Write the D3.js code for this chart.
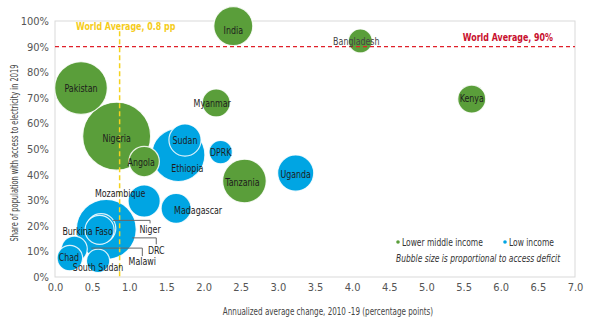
<!DOCTYPE html>
<html><head><meta charset="utf-8">
<script src="https://cdn.jsdelivr.net/npm/d3@7"></script>
<style>
body{margin:0;background:#fff;}
svg{display:block;}
text{font-family:"DejaVu Sans Condensed","Liberation Sans Narrow",sans-serif;}
</style></head>
<body><svg id="c" width="602" height="323"></svg>
<script>
// ---- data ----
const countries = ["Nigeria","DRC","Ethiopia","Pakistan","Tanzania","India","Uganda","Sudan","Mozambique","Madagascar","Angola","Niger","Burkina Faso","Myanmar","Kenya","Malawi","Chad","Bangladesh","DPRK","South Sudan"];
const group     = ["LMI","LI","LI","LMI","LMI","LMI","LI","LI","LI","LI","LMI","LI","LI","LMI","LMI","LI","LI","LMI","LI","LI"];
const change    = [0.83,0.69,1.66,0.35,2.55,2.40,3.24,1.75,1.20,1.63,1.20,0.62,0.60,2.17,5.61,0.26,0.20,4.11,2.23,0.58];
const access    = [55.0,18.6,47.7,73.8,37.5,98.0,40.6,53.5,29.7,26.8,45.1,19.0,18.4,68.0,69.5,10.9,7.4,92.2,48.8,6.3];
const deficit   = [85,66,52,51,35,28,24,19,19,16.5,17,16,15.5,14.4,14.4,12.4,12,10.6,10,10];
const xTicks = [0,0.5,1,1.5,2,2.5,3,3.5,4,4.5,5,5.5,6,6.5,7];
const yTicks = [0,10,20,30,40,50,60,70,80,90,100];
const worldAvgAccess = 90;
const worldAvgChange = 0.87;
const groupNames = {LMI:"Lower middle income", LI:"Low income"};

// ---- label layout (pixel offsets from bubble centre) ----
const labelLayout = {
  "India":{dx:0,dy:5},"Bangladesh":{dx:-4,dy:1},"Kenya":{dx:0,dy:0},"Pakistan":{dx:0,dy:1},
  "Myanmar":{dx:-4,dy:1},"Nigeria":{dx:0,dy:2},"Angola":{dx:-3,dy:1},"Ethiopia":{dx:9,dy:14},
  "Sudan":{dx:0,dy:1},"DPRK":{dx:0,dy:1},"Tanzania":{dx:-2,dy:2},"Uganda":{dx:0,dy:2},
  "Madagascar":{dx:22,dy:2},"Mozambique":{dx:-24,dy:-7},"Burkina Faso":{dx:-12,dy:2},
  "Niger":{dx:49,dy:1,lead:[12,-8]},"DRC":{dx:50,dy:21,lead:[26,8.5]},
  "Malawi":{dx:68,dy:13,lead:[17,-1]},"Chad":{dx:-1,dy:0},"South Sudan":{dx:0,dy:7}
};

const colors = {LMI:"#5a9e3a", LI:"#00a5e3"};
const SX = 0.8; // horizontal condensing to mimic the narrow original face
const svg = d3.select("#c");
const x = d3.scaleLinear().domain([0,7]).range([55,575]);
const y = d3.scaleLinear().domain([0,100]).range([277,21]);
const r = d3.scaleSqrt().domain([0,85]).range([0,34]);

function txt(parent, px, py, str, o={}){
  const t = parent.append("text").attr("x",0).attr("y",0)
    .attr("transform",`translate(${px},${py})${o.rot?` rotate(${o.rot})`:""} scale(${o.sx||SX},1)`)
    .attr("text-anchor",o.anchor||"start").attr("font-size",o.size||11).attr("fill",o.fill||"#222").text(str);
  if(o.weight) t.attr("font-weight",o.weight);
  if(o.style) t.attr("font-style",o.style);
  if(o.mid) t.attr("dominant-baseline","middle");
  return t;
}

// frame
svg.append("rect").attr("x",x(0)).attr("y",y(100)).attr("width",x(7)-x(0)).attr("height",y(0)-y(100))
  .attr("fill","none").attr("stroke","#d9d9d9").attr("stroke-width",1);

// axes
const xa = svg.append("g").attr("transform",`translate(0,${y(0)+1})`)
  .call(d3.axisBottom(x).tickValues(xTicks).tickSize(0).tickPadding(5).tickFormat(d3.format(".1f")));
const ya = svg.append("g").attr("transform",`translate(${x(0)-1},0)`)
  .call(d3.axisLeft(y).tickValues(yTicks).tickSize(0).tickPadding(5).tickFormat(d=>d+"%"));
[xa,ya].forEach(a=>{a.select(".domain").remove();
  a.selectAll("text").attr("font-size",11).attr("fill","#555").style("font-family",null);});

// axis titles
txt(svg,(x(0)+x(7))/2+13,315,"Annualized average change, 2010 -19 (percentage points)",{anchor:"middle",size:10,fill:"#444"});
txt(svg,18,(y(0)+y(100))/2+4,"Share of population with access to electricity in 2019",{anchor:"middle",size:10,fill:"#444",rot:-90,sx:0.74});

// data rows
const rows = countries.map((c,i)=>({name:c,g:group[i],x:change[i],y:access[i],d:deficit[i]}))
  .sort((a,b)=>b.d-a.d);

// bubbles
svg.append("g").selectAll("circle").data(rows).join("circle")
  .attr("cx",d=>x(d.x)).attr("cy",d=>y(d.y)).attr("r",d=>r(d.d))
  .attr("fill",d=>colors[d.g]).attr("stroke","#fff").attr("stroke-width",1.2).attr("stroke-opacity",0.85);

// world average lines
svg.append("line").attr("x1",x(0)).attr("x2",x(7)).attr("y1",y(worldAvgAccess)).attr("y2",y(worldAvgAccess))
  .attr("stroke","#e0202a").attr("stroke-width",1.2).attr("stroke-dasharray","4,3");
svg.append("line").attr("x1",x(worldAvgChange)).attr("x2",x(worldAvgChange)).attr("y1",y(96)).attr("y2",y(0))
  .attr("stroke","#f5d21e").attr("stroke-width",1.5).attr("stroke-dasharray","5,3");
txt(svg,x(7)-22,y(worldAvgAccess)-6,"World Average, "+worldAvgAccess+"%",{anchor:"end",weight:"bold",fill:"#c8102e"});
txt(svg,x(worldAvgChange)+6,y(100)+9,"World Average, 0.8 pp",{anchor:"middle",weight:"bold",fill:"#f5cc1b"});

// leader lines
const lg = svg.append("g");
rows.forEach(d=>{
  const L = labelLayout[d.name];
  if(!L.lead) return;
  const cx=x(d.x), cy=y(d.y);
  const sx=cx+L.lead[0], sy=cy+L.lead[1], lx=cx+L.dx, ly=cy+L.dy;
  lg.append("path").attr("d",`M${sx},${sy}H${lx}V${ly-6}`).attr("fill","none").attr("stroke","#666").attr("stroke-width",1);
});

// labels
const lab = svg.append("g");
rows.forEach(d=>{
  const L = labelLayout[d.name];
  txt(lab,x(d.x)+L.dx,y(d.y)+L.dy,d.name,{anchor:"middle",mid:true,fill:d.name==="Bangladesh"?"#444":"#1d1d1d"});
});

// legend
const leg = svg.append("g");
const lx0=[398,505];
["LMI","LI"].forEach((g,i)=>{
  leg.append("circle").attr("cx",lx0[i]).attr("cy",242).attr("r",1.8).attr("fill",colors[g]);
  txt(leg,lx0[i]+4,246,groupNames[g],{size:10.5,fill:"#333"});
});
txt(leg,396,262,"Bubble size is proportional to access deficit",{size:10.5,fill:"#333",style:"italic"});
</script></body></html>
